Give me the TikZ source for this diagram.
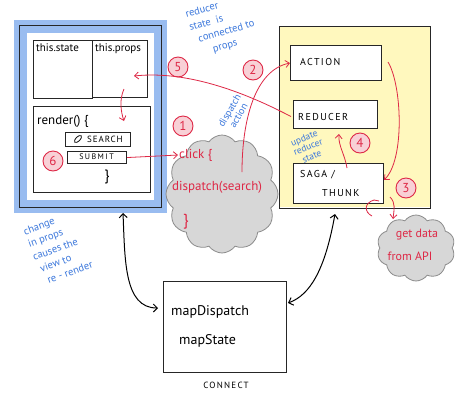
\documentclass[tikz,border=0pt]{standalone}
\usepackage{fontspec}
\setmainfont{PT Sans}
\usetikzlibrary{shapes.symbols,arrows.meta}
\definecolor{inkred}{RGB}{222,40,70}
\definecolor{inkblue}{RGB}{60,120,220}
\definecolor{hiblue}{RGB}{110,160,235}
\definecolor{hiyellow}{RGB}{255,248,190}
\definecolor{cloudgray}{RGB}{215,215,215}
\tikzset{
  box/.style={draw=black!85, line width=1.1pt, fill=white, inner sep=0pt, anchor=north west},
  lbl/.style={font=\fontsize{11}{13}\selectfont, inner sep=1pt},
  caps/.style={font=\fontsize{10}{12}\selectfont\addfontfeatures{LetterSpace=14}, inner sep=1pt},
  redtxt/.style={text=inkred, font=\fontsize{13}{15}\selectfont, inner sep=1pt},
  bluetxt/.style={text=inkblue, font=\fontsize{10.5}{11.5}\selectfont, align=left, inner sep=1pt},
  num/.style={circle, draw=inkred, line width=0.9pt, fill=inkred!22, text=inkred, minimum size=20pt, inner sep=0pt, font=\fontsize{13}{15}\selectfont},
  redarrow/.style={draw=inkred, line width=0.8pt, -{Straight Barb[length=4pt,width=7pt]}},
  blackarrow/.style={draw=black, line width=1pt, {Straight Barb[length=4pt,width=8pt]}-{Straight Barb[length=4pt,width=8pt]}},
  puff/.style={cloud, cloud puffs=12, cloud puff arc=110, aspect=1, draw=black!45, fill=cloudgray, line width=0.8pt}
}
\begin{document}
\begin{tikzpicture}[x=1pt,y=-1pt]
\useasboundingbox[fill=white] (0,0) rectangle (474,400);

% ---------- left view ----------
\draw[hiblue, line width=13pt, opacity=0.7] (20,26) rectangle (160,206);
\node[box, fill=none, minimum width=142pt, minimum height=182pt] (view) at (19,25) {};
\node[box, minimum width=59pt, minimum height=58pt] (state) at (33,40) {};
\node[box, minimum width=55pt, minimum height=57pt] (props) at (92,40) {};
\node[lbl, anchor=north west] at (35,43) {this.state};
\node[lbl, anchor=north west] at (94,43) {this.props};
\node[box, minimum width=117pt, minimum height=86pt] (render) at (33,106) {};
\node[lbl, anchor=west, font=\fontsize{13}{15}\selectfont] at (36,121) {render() \{};
\node[box, minimum width=65pt, minimum height=14pt] (search) at (65,132) {};
\node[caps, anchor=west, font=\fontsize{9}{11}\selectfont\addfontfeatures{LetterSpace=10}] at (86,139) {SEARCH};
\draw[line width=0.8pt, rotate around={45:(78,139)}] (78,139) ellipse (4.5pt and 2.2pt);
\node[box, minimum width=59pt, minimum height=12pt] (submit) at (67,151) {};
\node[caps, font=\fontsize{8}{10}\selectfont\addfontfeatures{LetterSpace=18}] at (96.5,157) {SUBMIT};
\node[lbl, font=\fontsize{15}{17}\selectfont] at (107,177) {\}};
\node[num] (n6) at (53,161) {6};
\coordinate (propsdown) at (124,89);
\coordinate (renderin) at (124,121);
\draw[redarrow] (propsdown) .. controls (119,100) and (121,112) .. (renderin);

% ---------- cloud ----------
\node[puff, minimum width=112pt, minimum height=118pt] (cloud) at (222,194) {};
\node[redtxt, anchor=west] (click) at (178,155) {click \{};
\node[redtxt, anchor=west] (dispatch) at (171,187) {dispatch(search)};
\node[redtxt, font=\fontsize{16}{18}\selectfont] at (186,222) {\}};
\node[num] (n1) at (183,126) {1};
\draw[redarrow] (submit.east) -- (click.west);

% ---------- right store ----------
\fill[hiyellow] (279,26) rectangle (430,207);
\node[box, fill=none, minimum width=151pt, minimum height=182pt] (store) at (279,26) {};
\node[box, minimum width=91pt, minimum height=35pt] (action) at (290,45) {};
\node[caps, anchor=west] at (299,62) {ACTION};
\node[box, minimum width=84pt, minimum height=28pt] (reducer) at (293,100) {};
\node[caps, anchor=west] at (297,117) {REDUCER};
\node[box, minimum width=90pt, minimum height=40pt] (saga) at (293,163) {};
\node[caps, anchor=west] at (299,175) {SAGA /};
\node[caps, anchor=west] at (321,193) {THUNK};
\node[num] (n2) at (253,70) {2};
\node[num] (n4) at (360,143) {4};
\node[num] (n3) at (406,188) {3};
\node[num] (n5) at (178,67) {5};

% red connectors
\coordinate (propsin) at (134,76);
\draw[redarrow] (reducer.west) ++(-2,2) .. controls (250,95) and (190,70) .. (propsin);
\coordinate (dispup) at (242,172);
\draw[redarrow] (dispup) .. controls (242,120) and (255,70) .. (action.west);
\coordinate (actout) at (388,62);
\coordinate (sagain) at (384,180);
\draw[redarrow] (actout) .. controls (402,85) and (405,160) .. (sagain);
\coordinate (sagaup) at (347,168);
\coordinate (redin) at (339,134);
\draw[redarrow] (sagaup) .. controls (345,155) and (338,145) .. (redin);

% api cloud
\node[puff, cloud puffs=10, minimum width=78pt, minimum height=66pt] (api) at (416,248) {};
\node[redtxt, font=\fontsize{12}{14}\selectfont] at (417,235) {get data};
\node[redtxt, font=\fontsize{12}{14}\selectfont] at (410,256) {from API};
\coordinate (apiout) at (390,197);
\coordinate (apiin) at (393,219);
\draw[redarrow] (apiout) .. controls (396,203) and (394,210) .. (apiin);
\coordinate (apiret1) at (372,216);
\coordinate (apiret2) at (374,200);
\draw[draw=inkred, line width=0.8pt] (apiret1) .. controls (364,212) and (364,203) .. (apiret2);
\draw[draw=inkred, line width=0.8pt] (apiret2) -- ++(5,1);

% ---------- connect ----------
\node[box, minimum width=123pt, minimum height=91pt] (connect) at (163,281) {};
\node[lbl, font=\fontsize{14}{16}\selectfont, anchor=west] at (170,312) {mapDispatch};
\node[lbl, font=\fontsize{14}{16}\selectfont, anchor=west] at (178,341) {mapState};
\node[caps, font=\fontsize{9}{11}\selectfont\addfontfeatures{LetterSpace=14}] at (226,385) {CONNECT};
\coordinate (viewbot) at (123,213);
\coordinate (connleft) at (158,308);
\draw[blackarrow] (viewbot) .. controls (125,260) and (124,308) .. (connleft);
\coordinate (storebot) at (335,214);
\coordinate (connright) at (288,303);
\draw[blackarrow] (storebot) .. controls (325,270) and (310,295) .. (connright);

% ---------- blue notes ----------
\node[bluetxt, rotate=16] at (222,26) {reducer\\[2pt] state\ \ is\\[2pt] \ \ connected\ to\\[2pt] \ \ \ \ \ \ props};
\node[bluetxt, rotate=20] at (58,248) {change\\[2pt] in\ props\\[2pt] causes\ the\\[2pt] \ view to\\[2pt] \ \ re - render};
\node[bluetxt, rotate=60, align=center, font=\fontsize{10}{10.5}\selectfont] at (234,113) {dispatch\\ action};
\node[bluetxt, rotate=22, align=center, font=\fontsize{9.5}{10}\selectfont] at (308,147) {update\\ reducer\\ state};
\end{tikzpicture}
\end{document}
